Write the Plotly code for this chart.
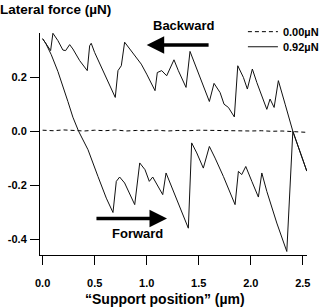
import plotly.graph_objects as go

# ---- data ----
forward_x = [0.0, 0.03, 0.083, 0.147, 0.243, 0.291, 0.346, 0.436, 0.532, 0.612, 0.676, 0.708, 0.74,
             0.788, 0.885, 0.933, 0.984, 1.025, 1.058, 1.096, 1.154, 1.186, 1.24, 1.32, 1.40, 1.432,
             1.481, 1.544, 1.602, 1.657, 1.737, 1.849, 1.881, 1.913, 1.952, 2.01, 2.073, 2.106, 2.154,
             2.25, 2.346, 2.404, 2.47, 2.538]
forward_y = [0.342, 0.325, 0.283, 0.221, 0.11, 0.052, 0.0, -0.068, -0.167, -0.247, -0.30, -0.185, -0.169,
             -0.191, -0.271, -0.117, -0.142, -0.185, -0.169, -0.197, -0.234, -0.154, -0.204, -0.284, -0.358,
             -0.043, -0.08, -0.136, -0.056, -0.099, -0.167, -0.271, -0.148, -0.16, -0.13, -0.185, -0.243,
             -0.154, -0.222, -0.339, -0.444, 0.0, -0.072, -0.147]

backward_x = [0.0, 0.077, 0.099, 0.147, 0.195, 0.221, 0.26, 0.291, 0.356, 0.429, 0.452, 0.467, 0.5, 0.596,
              0.698, 0.724, 0.756, 0.788, 0.852, 0.948, 1.0, 1.08, 1.102, 1.144, 1.192, 1.262, 1.304, 1.378,
              1.416, 1.464, 1.544, 1.602, 1.647, 1.705, 1.743, 1.785, 1.842, 1.875, 1.929, 1.967, 2.015,
              2.058, 2.154, 2.185, 2.224, 2.265, 2.33, 2.404, 2.538]
backward_y = [0.342, 0.298, 0.362, 0.335, 0.300, 0.298, 0.320, 0.304, 0.261, 0.224, 0.316, 0.325, 0.291,
              0.211, 0.125, 0.224, 0.242, 0.329, 0.298, 0.248, 0.211, 0.150, 0.217, 0.224, 0.205, 0.264,
              0.224, 0.162, 0.295, 0.248, 0.174, 0.110, 0.177, 0.143, 0.100, 0.088, 0.053, 0.242, 0.199,
              0.156, 0.230, 0.180, 0.081, 0.119, 0.088, 0.187, 0.100, 0.0, -0.147]

zero_x = [0.0, 0.1, 0.2, 0.3, 0.4, 0.5, 0.6, 0.7, 0.8, 0.9, 1.0, 1.1, 1.2, 1.3, 1.4, 1.5, 1.6, 1.7,
          1.8, 1.9, 2.0, 2.1, 2.2, 2.3, 2.4, 2.54]
zero_y = [0.004, 0.002, 0.005, 0.003, 0.001, 0.004, 0.002, 0.005, 0.001, 0.003, 0.002, 0.004, 0.001,
          0.003, 0.002, 0.004, 0.003, 0.002, 0.001, 0.002, 0.001, 0.002, 0.0, 0.001, 0.0, -0.004]

x_ticks = [0.0, 0.5, 1.0, 1.5, 2.0, 2.5]
x_tick_labels = ["0.0", "0.5", "1.0", "1.5", "2.0", "2.5"]
y_ticks = [-0.4, -0.2, 0.0, 0.2]
y_tick_labels = ["-0.4", "-0.2", "0.0", "0.2"]

FONT = "Liberation Sans, Arial, Helvetica, sans-serif"
BOLD = dict(family=FONT, size=11, color="black", weight="bold")

fig = go.Figure()
fig.add_trace(go.Scatter(x=zero_x, y=zero_y, mode="lines", name="0.00µN",
                         line=dict(color="black", width=1, dash="4px,3px"), legend="legend"))
fig.add_trace(go.Scatter(x=forward_x, y=forward_y, mode="lines", name="0.92µN",
                         line=dict(color="#111", width=1), legend="legend2"))
fig.add_trace(go.Scatter(x=backward_x, y=backward_y, mode="lines", name="0.92µN backward",
                         line=dict(color="#111", width=1), showlegend=False))

axis_common = dict(showline=True, linecolor="black", linewidth=1, ticks="outside", ticklen=9,
                   tickwidth=1, tickcolor="black", showgrid=False, zeroline=False,
                   tickfont=BOLD)

fig.update_layout(
    width=323, height=307,
    margin=dict(l=40, r=16, t=33, b=52, autoexpand=False),
    plot_bgcolor="white", paper_bgcolor="white",
    xaxis=dict(range=[-0.025, 2.54], tickvals=x_ticks, ticktext=x_tick_labels,
               ticklabelstandoff=9, **axis_common),
    yaxis=dict(range=[-0.457, 0.363], tickvals=y_ticks, ticktext=y_tick_labels,
               ticklabelstandoff=1, **axis_common),
    legend=dict(x=0.76, y=1.006, xanchor="left", yanchor="middle", bgcolor="rgba(0,0,0,0)",
                font=BOLD, borderwidth=0),
    legend2=dict(x=0.76, y=0.938, xanchor="left", yanchor="middle", bgcolor="rgba(0,0,0,0)",
                 font=BOLD, borderwidth=0),
    showlegend=True,
)

annotations = [
    dict(text="Lateral force (µN)", xref="paper", yref="paper", x=-0.158, y=1.104,
         xanchor="left", yanchor="middle", showarrow=False,
         font=dict(family=FONT, size=13.5, color="black", weight="bold")),
    dict(text="“Support position” (µm)", xref="paper", yref="paper", x=0.467, y=-0.198,
         xanchor="center", yanchor="middle", showarrow=False,
         font=dict(family=FONT, size=14, color="black", weight="bold")),
    dict(text="Backward", xref="paper", yref="paper", x=0.5356, y=1.033, showarrow=False,
         xanchor="center", yanchor="middle",
         font=dict(family=FONT, size=13, color="black", weight="bold")),
    dict(text="Forward", xref="x", yref="y", x=0.916, y=-0.379, showarrow=False,
         xanchor="center", yanchor="middle",
         font=dict(family=FONT, size=13, color="black", weight="bold")),
    dict(text="", xref="x", yref="y", axref="x", ayref="y", x=1.0, y=0.3185, ax=1.609, ay=0.3185,
         showarrow=True, arrowhead=2, arrowsize=1, arrowwidth=3.5, arrowcolor="black"),
    dict(text="", xref="x", yref="y", axref="x", ayref="y", x=1.195, y=-0.322, ax=0.503, ay=-0.322,
         showarrow=True, arrowhead=2, arrowsize=1, arrowwidth=3.5, arrowcolor="black"),
]
fig.update_layout(annotations=annotations)

fig.write_html("out.html", config={"displayModeBar": False},
               post_script="document.body.style.margin='0';document.body.style.padding='0';")
